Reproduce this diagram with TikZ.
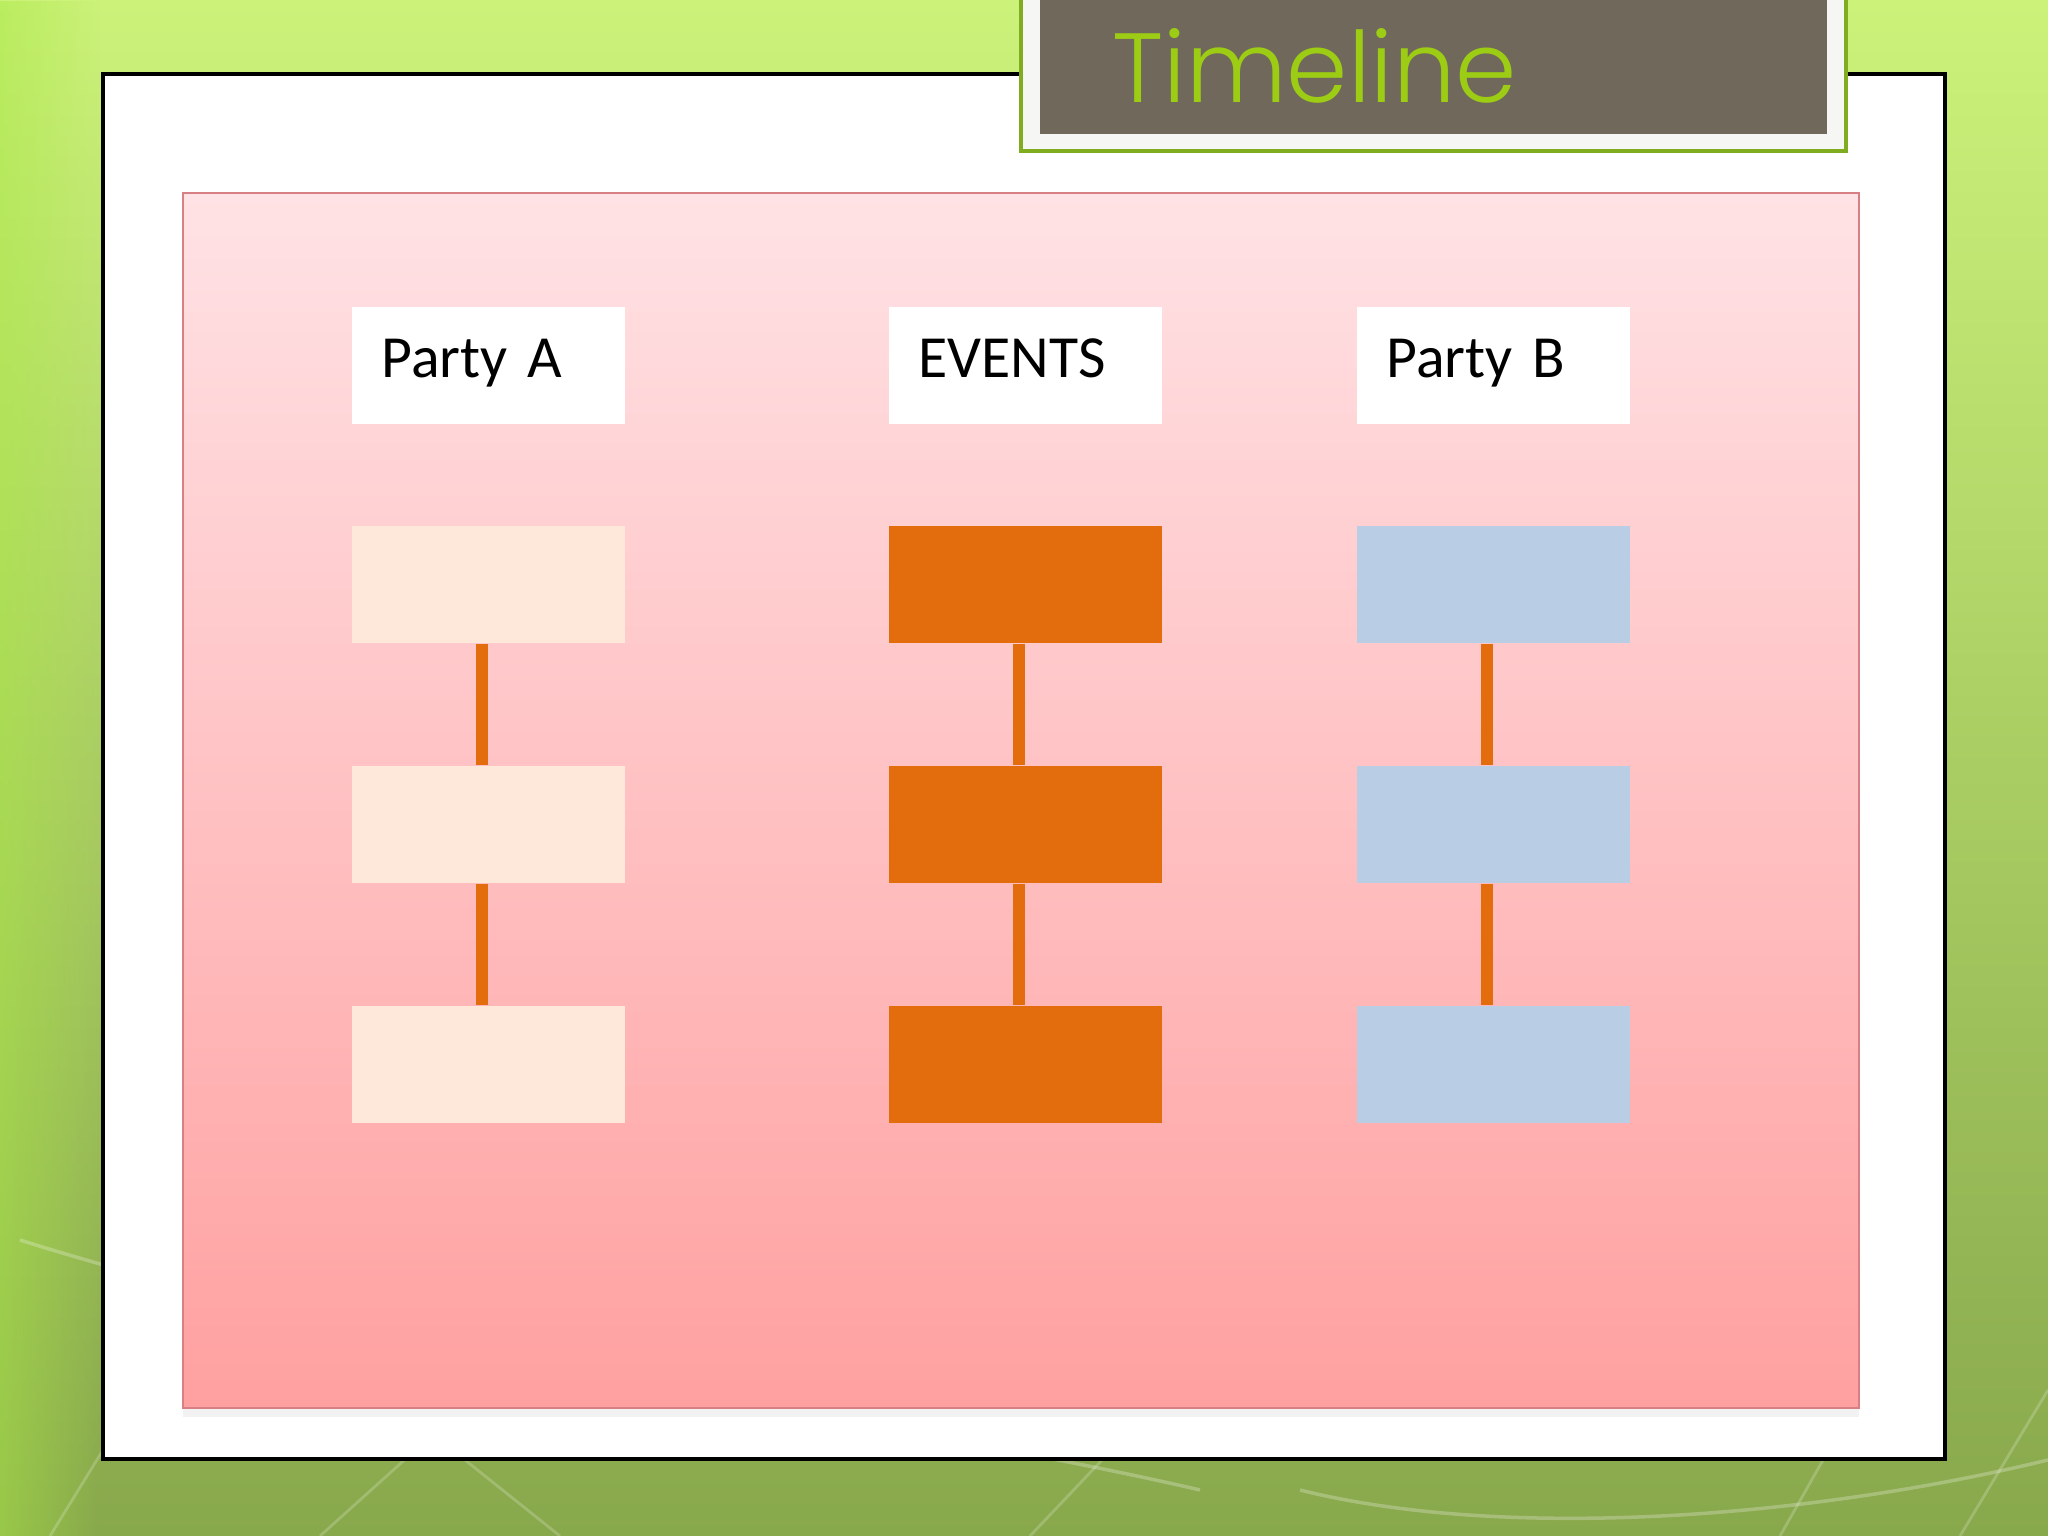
\documentclass[tikz,border=0pt]{standalone}
\usepackage{fontspec}
\setmainfont{Carlito}
\newfontfamily\titlefont{Poppins}[UprightFont=* Light]
\usetikzlibrary{positioning,shadows,fadings}

\definecolor{bgtop}{RGB}{204,242,122}
\definecolor{bgbot}{RGB}{136,168,76}
\definecolor{bgleft}{RGB}{170,232,70}
\definecolor{paneltop}{RGB}{255,226,229}
\definecolor{panelbot}{RGB}{255,160,160}
\definecolor{paneledge}{RGB}{214,128,134}
\definecolor{titlegray}{RGB}{112,104,90}
\definecolor{titlegreen}{RGB}{156,204,20}
\definecolor{titleedge}{RGB}{128,172,32}
\definecolor{titlepad}{RGB}{246,246,244}
\definecolor{peach}{RGB}{253,232,218}
\definecolor{evorange}{RGB}{227,108,12}
\definecolor{steel}{RGB}{185,205,229}

\tikzset{
  header/.style={fill=white, minimum width=2.73cm, minimum height=1.17cm,
    text width=2.13cm, inner xsep=0.3cm, align=left,
    text height=0.9em, text depth=0.22em,
    font=\fontsize{17}{20}\selectfont},
  cell/.style={minimum width=2.73cm, minimum height=1.17cm, inner sep=0pt},
  peachcell/.style={cell, fill=peach},
  eventcell/.style={cell, fill=evorange},
  steelcell/.style={cell, fill=steel},
  link/.style={draw=evorange, line width=0.12cm}
}

\begin{document}
\begin{tikzpicture}[node distance=2.4cm,on grid]
  \useasboundingbox (0,0) rectangle (20.48,-15.36);
  % background
  \shade[top color=bgtop, bottom color=bgbot] (0,0) rectangle (20.48,-15.36);
  \fill[bgleft, path fading=east, opacity=0.5] (0,0) rectangle (1.0,-15.36);
  \draw[white, opacity=0.25, line width=1pt]
    (0.2,-12.4) .. controls (4,-13.6) and (9,-14.2) .. (12,-14.9)
    (13,-14.9) .. controls (15,-15.4) and (18,-15.2) .. (20.48,-14.6);
  \draw[white, opacity=0.2, line width=0.8pt]
    (0.5,-15.36) -- (1.4,-13.9) (3.2,-15.36) -- (4.6,-14.1)
    (5.6,-15.36) -- (4.4,-14.4) (10.3,-15.36) -- (11.4,-14.2)
    (17.8,-15.36) -- (18.4,-14.3) (19.6,-15.36) -- (20.48,-13.9);

  % slide frame
  \draw[black, line width=1pt, fill=white] (1.03,-0.74) rectangle (19.45,-14.59);

  % title tab
  \draw[titleedge, line width=1.2pt, fill=titlepad] (10.21,0.1) rectangle (18.46,-1.51);
  \fill[titlegray] (10.40,0.1) rectangle (18.27,-1.34);
  \node[anchor=base west, inner sep=0pt, text=titlegreen,
    font=\titlefont\fontsize{28}{32}\selectfont] (title) at (11.12,-1.03) {Timeline};

  % panel
  \shade[top color=paneltop, bottom color=panelbot, draw=paneledge,
    drop shadow={opacity=0.1, shadow xshift=0pt, shadow yshift=-2.5pt}]
    (1.83,-1.93) rectangle (18.59,-14.08);

  % column heads
  \node[header] (partyA) at (4.88,-3.655) {Party A};
  \node[header] (events) at (10.25,-3.655) {EVENTS};
  \node[header] (partyB) at (14.93,-3.655) {Party B};

  % rows
  \node[peachcell] (a1) [below=2.19cm of partyA] {};
  \node[peachcell] (a2) [below=of a1] {};
  \node[peachcell] (a3) [below=of a2] {};

  \node[eventcell] (e1) [below=2.19cm of events] {};
  \node[eventcell] (e2) [below=of e1] {};
  \node[eventcell] (e3) [below=of e2] {};

  \node[steelcell] (b1) [below=2.19cm of partyB] {};
  \node[steelcell] (b2) [below=of b1] {};
  \node[steelcell] (b3) [below=of b2] {};

  % links
  \foreach \c in {a,e,b} {
    \path[link] ([xshift=-0.06cm]\c1.south) edge ([xshift=-0.06cm]\c2.north)
                ([xshift=-0.06cm]\c2.south) edge ([xshift=-0.06cm]\c3.north);
  }
\end{tikzpicture}
\end{document}
